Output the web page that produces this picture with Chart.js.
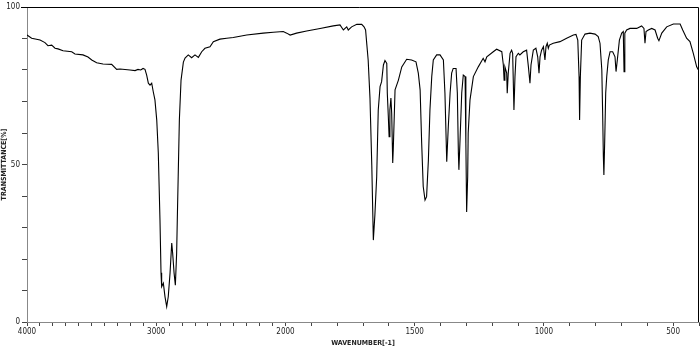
<!DOCTYPE html>
<html><head><meta charset="utf-8">
<script src="https://cdn.jsdelivr.net/npm/chart.js@4.4.1/dist/chart.umd.min.js"></script>
<style>html,body{margin:0;padding:0;background:#fff}#wrap{width:700px;height:355px}</style>
</head><body><div id="wrap"><canvas id="c" width="700" height="355"></canvas></div>
<script>
// Wavenumber (cm-1)
const wavenumbers = [
 4000,3964,3899,3861,3838,3809,3783,3760,3721,3654,
 3629,3567,3528,3499,3461,3412,3345,3306,3280,3203,
 3164,3141,3120,3102,3087,3074,3061,3048,3035,3023,
 3010,2996,2984,2971,2963,2958,2945,2932,2919,2907,
 2893,2880,2873,2862,2852,2842,2837,2829,2821,2808,
 2790,2777,2752,2726,2700,2674,2648,2623,2584,2558,
 2507,2455,2404,2300,2172,2094,2017,1995,1982,1957,
 1918,1866,1815,1789,1776,1763,1757,1744,1724,1705,
 1696,1690,1685,1680,1673,1666,1660,1654,1647,1641,
 1634,1628,1621,1615,1608,1606,1602,1599,1596,1592,
 1589,1585,1583,1576,1563,1550,1531,1512,1495,1486,
 1479,1473,1467,1460,1454,1447,1441,1434,1428,1415,
 1402,1389,1383,1376,1370,1363,1357,1351,1340,1335,
 1331,1329,1325,1318,1312,1305,1302,1299,1295,1293,
 1286,1273,1254,1235,1228,1221,1196,1183,1163,1157,
 1154,1151,1144,1142,1138,1131,1125,1121,1116,1112,
 1108,1099,1093,1080,1067,1060,1054,1050,1041,1031,
 1024,1019,1015,1009,1002,996,992,987,983,979,
 964,938,912,886,876,869,864,862,859,854,
 841,822,802,790,783,776,773,770,768,765,
 761,757,751,744,734,725,721,716,708,699,
 693,690,687,680,667,641,622,613,609,605,
 596,583,570,560,555,544,525,499,473,463,
 448,435,422,409,400
];
// Transmittance (%)
const transmittance = [
 91.1,90.1,89.5,88.7,87.7,87.9,86.9,86.7,86.1,85.8,
 85.1,84.8,84.1,83.2,82.3,81.9,81.8,80.2,80.3,80.0,
 79.8,80.2,80.0,80.5,80.2,78.4,75.8,75.2,75.8,73.1,
 70.5,64.1,53.7,32.4,15.6,11.2,12.3,8.0,4.9,8.0,
 15.6,25.1,21.9,15.6,11.7,21.9,32.4,48.3,64.1,76.8,
 82.5,83.8,84.8,83.9,84.8,84.0,85.8,86.9,87.4,89.0,
 89.8,90.1,90.3,91.1,91.7,92.0,92.2,91.7,91.1,91.7,
 92.4,93.2,94.0,94.3,92.7,93.7,92.7,93.7,94.5,94.5,
 93.7,92.7,87.9,83.2,71.1,49.8,26.0,34.0,46.1,67.3,
 74.7,76.3,81.6,83.0,82.1,72.7,65.2,58.8,67.3,71.1,
 66.3,50.5,54.6,73.7,76.8,81.0,83.4,83.2,82.6,79.0,
 73.7,56.8,43.0,38.7,39.8,51.4,67.3,77.9,83.2,84.8,
 84.8,83.2,72.7,50.9,62.0,72.7,79.0,80.5,80.5,72.7,
 53.7,48.3,56.8,72.7,78.4,77.9,56.8,34.9,46.1,60.0,
 70.5,77.9,81.0,83.7,82.6,84.2,85.8,86.6,85.8,81.6,
 76.8,81.0,79.0,72.6,79.0,85.3,86.3,85.3,67.3,77.9,
 84.2,85.3,84.8,85.8,86.3,81.0,75.8,81.6,86.3,86.9,
 84.2,79.0,84.2,86.3,87.4,83.2,87.4,88.5,86.9,87.9,
 88.5,89.0,90.1,91.1,91.3,89.5,77.9,64.1,77.9,89.5,
 91.4,91.7,91.4,90.6,88.5,80.0,67.3,52.5,46.7,56.8,
 72.6,77.9,83.2,85.8,85.8,84.2,79.5,83.2,89.5,91.7,
 92.2,79.5,91.7,92.7,93.2,93.2,94.0,93.2,88.5,92.2,
 92.7,93.2,92.7,90.1,89.3,91.7,93.7,94.6,94.6,92.7,
 90.1,89.0,85.3,81.0,79.7
];
const xTickLabels = [4000, 3000, 2000, 1500, 1000, 500];
const yTickLabels = [0, 50, 100];
const xTitle = 'WAVENUMBER[-1]';
const yTitle = 'TRANSMITTANCE[%]';

// The spectrometer axis is compressed 2x above 2000 cm-1
function toAxis(w) { return w >= 2000 ? (4000 - w) / 2 : 1000 + (2000 - w); }
function fromAxis(u) { return u <= 1000 ? 4000 - 2 * u : 2000 - (u - 1000); }

const points = wavenumbers.map((w, i) => ({ x: toAxis(w), y: transmittance[i] }));

const frame = {
  id: 'frame',
  afterDraw(chart) {
    const a = chart.chartArea, ctx = chart.ctx;
    ctx.save();
    ctx.strokeStyle = '#000';
    ctx.lineWidth = 1;
    ctx.beginPath();
    ctx.moveTo(a.left - 6, Math.round(a.top) + 0.5);
    ctx.lineTo(Math.round(a.right) - 0.5, Math.round(a.top) + 0.5);
    ctx.lineTo(Math.round(a.right) - 0.5, a.bottom);
    ctx.stroke();
    ctx.restore();
  }
};

const tickFont = { family: "'DejaVu Sans Condensed', 'DejaVu Sans', sans-serif", size: 8 };

new Chart(document.getElementById('c'), {
  type: 'line',
  data: { datasets: [{
    data: points,
    borderColor: '#000',
    borderWidth: 1.1,
    pointRadius: 0,
    tension: 0,
    fill: false
  }]},
  options: {
    responsive: false,
    devicePixelRatio: 1,
    animation: false,
    parsing: true,
    layout: { padding: { top: 7, right: 1, left: 0, bottom: 0 } },
    plugins: { legend: { display: false }, tooltip: { enabled: false } },
    scales: {
      x: {
        type: 'linear',
        min: 0,
        max: 2600,
        afterBuildTicks(scale) {
          const t = [];
          for (let w = 4000; w >= 400; w -= 100) t.push({ value: toAxis(w) });
          scale.ticks = t;
        },
        afterFit(scale) { scale.height = 33; },
        ticks: {
          autoSkip: false, maxRotation: 0, minRotation: 0, padding: 1,
          color: '#222', font: tickFont,
          callback(v) { const w = Math.round(fromAxis(v)); return xTickLabels.includes(w) ? String(w) : ''; }
        },
        grid: { drawOnChartArea: false, drawTicks: true, tickLength: 4, tickColor: '#444', tickWidth: 1 },
        border: { display: true, color: '#888', width: 1 },
        title: { display: true, text: xTitle, color: '#222',
          font: { family: "'DejaVu Sans Condensed', 'DejaVu Sans', sans-serif", size: 7, weight: 'bold' },
          padding: { top: 0, bottom: 8 } }
      },
      y: {
        min: 0,
        max: 100,
        afterBuildTicks(scale) {
          const t = [];
          for (let v = 0; v <= 100; v += 10) t.push({ value: v });
          scale.ticks = t;
        },
        afterFit(scale) { scale.width = 27; },
        ticks: {
          autoSkip: false, padding: 2, color: '#222', font: tickFont,
          callback(v) { return yTickLabels.includes(v) ? String(v) : ''; }
        },
        grid: { drawOnChartArea: false, drawTicks: true, tickLength: 5, tickColor: '#444', tickWidth: 1 },
        border: { display: true, color: '#888', width: 1 },
        title: { display: true, text: yTitle, color: '#222',
          font: { family: "'DejaVu Sans Condensed', 'DejaVu Sans', sans-serif", size: 7, weight: 'bold' },
          padding: { top: 0, bottom: 0 } }
      }
    }
  },
  plugins: [frame]
});
</script>
</body></html>
